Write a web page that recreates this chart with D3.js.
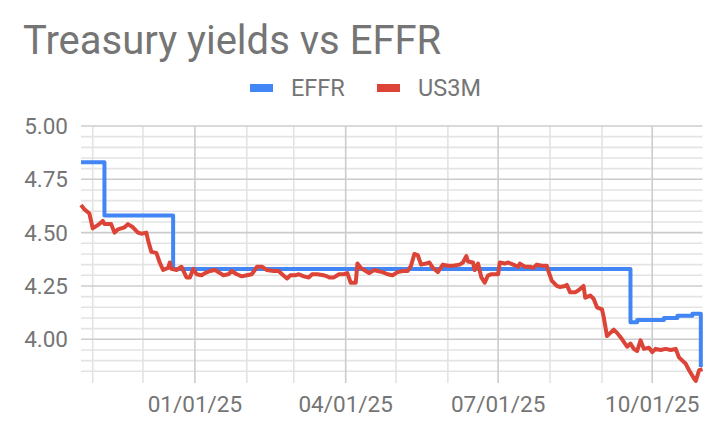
<!DOCTYPE html>
<html>
<head>
<meta charset="utf-8">
<script src="https://cdn.jsdelivr.net/npm/d3@7"></script>
<style>
  html, body { margin: 0; padding: 0; background: #fff; }
  svg { display: block; font-family: Roboto, sans-serif; }
</style>
</head>
<body>
<div id="chart"></div>
<script>
// EFFR change points (step series)
var effrDates = ['2024-10-25', '2024-11-08', '2024-12-19', '2025-09-18', '2025-09-22',
  '2025-10-08', '2025-10-16', '2025-10-25', '2025-10-30'];
var effrRates = [4.83, 4.58, 4.33, 4.08, 4.09, 4.10, 4.11, 4.12, 3.87];

// 3 month treasury yield
var us3mDates = [
  '2024-10-25', '2024-10-27', '2024-10-30', '2024-11-01', '2024-11-04', '2024-11-07', '2024-11-08',
  '2024-11-12', '2024-11-14', '2024-11-16', '2024-11-20', '2024-11-22', '2024-11-25', '2024-11-28',
  '2024-11-30', '2024-12-03', '2024-12-04', '2024-12-06', '2024-12-09', '2024-12-11', '2024-12-13',
  '2024-12-16', '2024-12-17', '2024-12-18', '2024-12-21', '2024-12-24', '2024-12-27', '2024-12-29',
  '2024-12-31', '2025-01-02', '2025-01-05', '2025-01-07', '2025-01-10', '2025-01-13', '2025-01-16',
  '2025-01-18', '2025-01-21', '2025-01-23', '2025-01-26', '2025-01-29', '2025-02-01', '2025-02-04',
  '2025-02-07', '2025-02-10', '2025-02-13', '2025-02-17', '2025-02-20', '2025-02-22', '2025-02-25',
  '2025-02-27', '2025-03-02', '2025-03-04', '2025-03-07', '2025-03-10', '2025-03-12', '2025-03-15',
  '2025-03-19', '2025-03-21', '2025-03-22', '2025-03-25', '2025-03-28', '2025-03-31', '2025-04-02',
  '2025-04-04', '2025-04-07', '2025-04-08', '2025-04-10', '2025-04-12', '2025-04-15', '2025-04-18',
  '2025-04-20', '2025-04-23', '2025-04-26', '2025-04-29', '2025-05-02', '2025-05-05', '2025-05-08',
  '2025-05-10', '2025-05-12', '2025-05-14', '2025-05-16', '2025-05-19', '2025-05-21', '2025-05-23',
  '2025-05-26', '2025-05-29', '2025-06-01', '2025-06-04', '2025-06-08', '2025-06-10', '2025-06-12',
  '2025-06-13', '2025-06-16', '2025-06-17', '2025-06-19', '2025-06-21', '2025-06-23', '2025-06-25',
  '2025-06-27', '2025-06-29', '2025-07-01', '2025-07-02', '2025-07-05', '2025-07-07', '2025-07-10',
  '2025-07-13', '2025-07-14', '2025-07-17', '2025-07-20', '2025-07-22', '2025-07-24', '2025-07-27',
  '2025-07-30', '2025-07-31', '2025-08-02', '2025-08-05', '2025-08-07', '2025-08-10', '2025-08-11',
  '2025-08-13', '2025-08-16', '2025-08-18', '2025-08-21', '2025-08-22', '2025-08-25', '2025-08-27',
  '2025-08-29', '2025-09-01', '2025-09-02', '2025-09-04', '2025-09-06', '2025-09-08', '2025-09-10',
  '2025-09-13', '2025-09-16', '2025-09-18', '2025-09-20', '2025-09-22', '2025-09-24', '2025-09-26',
  '2025-09-29', '2025-10-01', '2025-10-03', '2025-10-06', '2025-10-09', '2025-10-12', '2025-10-15',
  '2025-10-17', '2025-10-19', '2025-10-21', '2025-10-23', '2025-10-26', '2025-10-27', '2025-10-29',
  '2025-10-31'];
var us3mYields = [
  4.63, 4.61, 4.59, 4.52, 4.535, 4.555, 4.54,
  4.54, 4.50, 4.515, 4.525, 4.54, 4.525, 4.50,
  4.495, 4.50, 4.465, 4.41, 4.405, 4.36, 4.325,
  4.335, 4.36, 4.33, 4.325, 4.34, 4.29, 4.29,
  4.33, 4.305, 4.30, 4.31, 4.32, 4.325, 4.31,
  4.30, 4.305, 4.32, 4.305, 4.295, 4.30, 4.305,
  4.34, 4.34, 4.325, 4.32, 4.32, 4.305, 4.285,
  4.30, 4.30, 4.305, 4.295, 4.29, 4.305, 4.305,
  4.30, 4.295, 4.29, 4.29, 4.305, 4.305, 4.31,
  4.265, 4.265, 4.355, 4.335, 4.325, 4.31, 4.325,
  4.32, 4.315, 4.305, 4.30, 4.315, 4.32, 4.32,
  4.345, 4.40, 4.395, 4.35, 4.355, 4.36, 4.335,
  4.315, 4.35, 4.345, 4.345, 4.35, 4.36, 4.39,
  4.365, 4.36, 4.325, 4.355, 4.29, 4.265, 4.30,
  4.305, 4.305, 4.305, 4.36, 4.355, 4.36, 4.35,
  4.34, 4.355, 4.34, 4.34, 4.335, 4.35, 4.345,
  4.345, 4.32, 4.275, 4.25, 4.245, 4.25, 4.255,
  4.22, 4.22, 4.23, 4.25, 4.195, 4.205, 4.19,
  4.15, 4.14, 4.105, 4.015, 4.03, 4.045, 4.03,
  4.00, 3.965, 3.98, 3.955, 3.945, 3.995, 3.955,
  3.96, 3.94, 3.955, 3.95, 3.955, 3.95, 3.955,
  3.915, 3.90, 3.885, 3.855, 3.815, 3.805, 3.855,
  3.86];

var yTicks = [4.00, 4.25, 4.50, 4.75, 5.00];
var xTicks = ['2025-01-01', '2025-04-01', '2025-07-01', '2025-10-01'];

var seriesNames = ['EFFR', 'US3M'];
var colours = ['#4285f4', '#db4437'];

var width = 724, height = 440;
var margin = {top: 126, right: 21.5, bottom: 57, left: 81};
var parse = d3.timeParse('%Y-%m-%d');
var fmt = d3.timeFormat('%m/%d/%y');

var svg = d3.select('#chart').append('svg')
  .attr('width', width)
  .attr('height', height);

var x = d3.scaleTime()
  .domain([parse('2024-10-25'), parse('2025-10-31')])
  .range([margin.left, width - margin.right]);

var y = d3.scaleLinear()
  .domain([3.795, 5.0])
  .range([height - margin.bottom, margin.top]);

// minor gridlines
var minorY = d3.range(3.85, 5.0, 0.05).filter(function(v) {
  return Math.abs(v * 4 - Math.round(v * 4)) > 0.01;
});
var majorX = xTicks.map(parse);
var minorX = d3.timeMonth.range(parse('2024-11-01'), parse('2025-10-31')).filter(function(d) {
  return d.getMonth() % 3 != 0;
});

var grid = svg.append('g');

grid.selectAll('.minor-y')
  .data(minorY)
  .enter()
  .append('line')
  .attr('x1', x.range()[0]).attr('x2', x.range()[1])
  .attr('y1', function(d) { return y(d); })
  .attr('y2', function(d) { return y(d); })
  .attr('stroke', '#e3e3e3')
  .attr('stroke-width', 1.6);

grid.selectAll('.minor-x')
  .data(minorX)
  .enter()
  .append('line')
  .attr('y1', y.range()[0]).attr('y2', y.range()[1])
  .attr('x1', function(d) { return x(d); })
  .attr('x2', function(d) { return x(d); })
  .attr('stroke', '#e3e3e3')
  .attr('stroke-width', 1.6);

grid.selectAll('.major-y')
  .data(yTicks)
  .enter()
  .append('line')
  .attr('x1', x.range()[0]).attr('x2', x.range()[1])
  .attr('y1', function(d) { return y(d); })
  .attr('y2', function(d) { return y(d); })
  .attr('stroke', '#cccccc')
  .attr('stroke-width', 1.6);

grid.selectAll('.major-x')
  .data(majorX)
  .enter()
  .append('line')
  .attr('y1', y.range()[0]).attr('y2', y.range()[1])
  .attr('x1', function(d) { return x(d); })
  .attr('x2', function(d) { return x(d); })
  .attr('stroke', '#cccccc')
  .attr('stroke-width', 1.6);

// axis labels
svg.selectAll('.ylab')
  .data(yTicks)
  .enter()
  .append('text')
  .attr('x', 68)
  .attr('y', function(d) { return y(d) + 8; })
  .attr('text-anchor', 'end')
  .attr('font-size', 22.5)
  .attr('fill', '#757575')
  .text(function(d) { return d.toFixed(2); });

svg.selectAll('.xlab')
  .data(majorX)
  .enter()
  .append('text')
  .attr('x', function(d) { return x(d); })
  .attr('y', 412)
  .attr('text-anchor', 'middle')
  .attr('font-size', 22.5)
  .attr('fill', '#757575')
  .text(function(d) { return fmt(d); });

// lines
var effr = effrDates.map(function(d, i) { return {date: parse(d), value: effrRates[i]}; });
var us3m = us3mDates.map(function(d, i) { return {date: parse(d), value: us3mYields[i]}; });

var stepLine = d3.line()
  .curve(d3.curveStepAfter)
  .x(function(d) { return x(d.date); })
  .y(function(d) { return y(d.value); });

var line = d3.line()
  .x(function(d) { return x(d.date); })
  .y(function(d) { return y(d.value); });

svg.append('path')
  .datum(effr)
  .attr('d', stepLine)
  .attr('fill', 'none')
  .attr('stroke', colours[0])
  .attr('stroke-width', 4)
  .attr('stroke-linejoin', 'round');

svg.append('path')
  .datum(us3m)
  .attr('d', line)
  .attr('fill', 'none')
  .attr('stroke', colours[1])
  .attr('stroke-width', 4)
  .attr('stroke-linejoin', 'round');

// title
svg.append('text')
  .attr('x', 23)
  .attr('y', 54)
  .attr('font-size', 40)
  .attr('fill', '#757575')
  .text('Treasury yields vs EFFR');

// legend
var legendX = [250, 377];
var legend = svg.selectAll('.legend')
  .data(seriesNames)
  .enter()
  .append('g')
  .attr('transform', function(d, i) { return 'translate(' + legendX[i] + ',0)'; });

legend.append('rect')
  .attr('x', 0)
  .attr('y', 84)
  .attr('width', 23)
  .attr('height', 8)
  .attr('fill', function(d, i) { return colours[i]; });

legend.append('text')
  .attr('x', 41)
  .attr('y', 96)
  .attr('font-size', 23.5)
  .attr('fill', '#757575')
  .text(function(d) { return d; });
</script>
</body>
</html>
